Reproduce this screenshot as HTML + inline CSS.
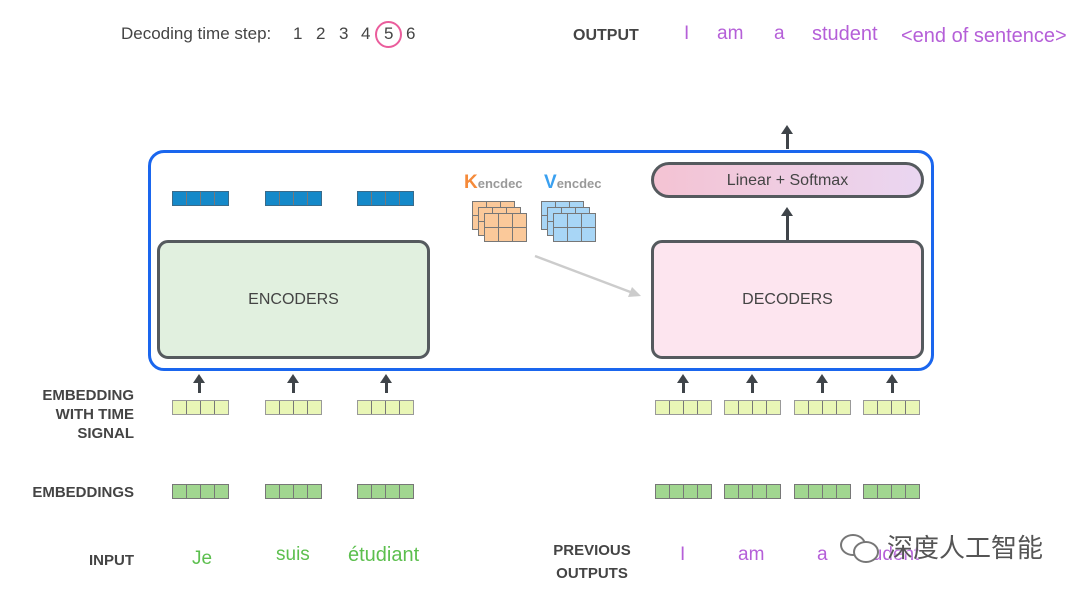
<!DOCTYPE html>
<html><head><meta charset="utf-8"><style>
body{margin:0;width:1080px;height:591px;background:#fff;position:relative;overflow:hidden;font-family:"Liberation Sans","Noto Sans CJK SC",sans-serif}
.a{position:absolute}
.v{position:absolute;width:56px;height:14px;border:1px solid #777;box-sizing:border-box;background-image:repeating-linear-gradient(90deg,transparent 0 13px,#777 13px 14px)}
.b{background-color:#1589c9;border-color:#3a6b8a}
.y{background-color:#e9f6b6;border-color:#999}
.g{background-color:#a1d690;border-color:#777}
.lbl{position:absolute;color:#444;font-size:15px;font-weight:bold;text-align:right;line-height:19px}
.t{position:absolute;font-size:19px;white-space:nowrap}
.pu{color:#b55fd8}.gr{color:#5cbf4e}
.arr{position:absolute;width:3px;background:#3f4449}
.arr:before{content:"";position:absolute;left:-5px;top:-8px;border-left:6.5px solid transparent;border-right:6.5px solid transparent;border-bottom:9px solid #3f4449}
.grid{position:absolute;width:43px;height:29px;border:1px solid #777;box-sizing:border-box;background-image:repeating-linear-gradient(90deg,transparent 0 13px,#777 13px 14px),linear-gradient(transparent 13px,#777 13px 14px,transparent 14px)}
.n{position:absolute;top:24px;font-size:17px;color:#444}
</style></head><body>
<div class="t" style="left:121px;top:24px;color:#444;font-size:17px">Decoding time step:</div>
<div class="n" style="left:293px">1</div>
<div class="n" style="left:316px">2</div>
<div class="n" style="left:339px">3</div>
<div class="n" style="left:361px">4</div>
<div class="n" style="left:384px">5</div>
<div class="n" style="left:406px">6</div>
<div class="a" style="left:375px;top:21px;width:23px;height:23px;border:2.5px solid #ea5d9c;border-radius:50%"></div>
<div class="t" style="left:573px;top:27px;color:#444;font-size:16px;font-weight:bold">OUTPUT</div>
<div class="t pu" style="left:684px;top:23px">I</div>
<div class="t pu" style="left:717px;top:23px">am</div>
<div class="t pu" style="left:774px;top:23px">a</div>
<div class="t pu" style="left:812px;top:23px;font-size:20px">student</div>
<div class="t pu" style="left:901px;top:25px;font-size:20px">&lt;end of sentence&gt;</div>

<div class="a" style="left:148px;top:150px;width:786px;height:221px;border:3px solid #1a66ee;border-radius:16px;box-sizing:border-box"></div>
<div class="v b" style="left:172px;top:191px;width:57px;height:15px"></div>
<div class="v b" style="left:265px;top:191px;width:57px;height:15px"></div>
<div class="v b" style="left:357px;top:191px;width:57px;height:15px"></div>

<div class="a" style="left:157px;top:240px;width:273px;height:119px;background:#e1f0df;border:3px solid #555a5e;border-radius:11px;box-sizing:border-box;color:#444;font-size:16px;display:flex;align-items:center;justify-content:center">ENCODERS</div>
<div class="a" style="left:651px;top:240px;width:273px;height:119px;background:#fde5ef;border:3px solid #555a5e;border-radius:11px;box-sizing:border-box;color:#444;font-size:16px;display:flex;align-items:center;justify-content:center">DECODERS</div>
<div class="a" style="left:651px;top:162px;width:273px;height:36px;background:linear-gradient(90deg,#f4c3d3,#ead6f1);border:3px solid #555a5e;border-radius:18px;box-sizing:border-box;color:#444;font-size:16px;line-height:32px;text-align:center">Linear + Softmax</div>

<div class="t" style="left:464px;top:172px;font-size:13px;color:#999;font-weight:bold"><span style="color:#f58a3a;font-size:19px">K</span>encdec</div>
<div class="t" style="left:544px;top:172px;font-size:13px;color:#999;font-weight:bold"><span style="color:#3aa0f0;font-size:19px">V</span>encdec</div>
<div class="grid" style="left:472px;top:201px;background-color:#fbc99a"></div>
<div class="grid" style="left:478px;top:207px;background-color:#fbc99a"></div>
<div class="grid" style="left:484px;top:213px;background-color:#fbc99a"></div>
<div class="grid" style="left:541px;top:201px;background-color:#a8d6f6"></div>
<div class="grid" style="left:547px;top:207px;background-color:#a8d6f6"></div>
<div class="grid" style="left:553px;top:213px;background-color:#a8d6f6"></div>
<svg class="a" style="left:0;top:0" width="1080" height="591"><line x1="535" y1="256" x2="633" y2="293" stroke="#ccc" stroke-width="2.5"/><polygon points="641,296 628,297 632,287" fill="#ccc"/></svg>

<div class="arr" style="left:786px;top:133px;height:16px"></div>
<div class="arr" style="left:786px;top:215px;height:25px"></div>

<div class="arr" style="left:198px;top:382px;height:11px"></div>
<div class="arr" style="left:292px;top:382px;height:11px"></div>
<div class="arr" style="left:385px;top:382px;height:11px"></div>
<div class="arr" style="left:682px;top:382px;height:11px"></div>
<div class="arr" style="left:751px;top:382px;height:11px"></div>
<div class="arr" style="left:821px;top:382px;height:11px"></div>
<div class="arr" style="left:891px;top:382px;height:11px"></div>

<div class="lbl" style="left:0;width:134px;top:386px">EMBEDDING<br>WITH TIME<br>SIGNAL</div>
<div class="lbl" style="left:0;width:134px;top:483px">EMBEDDINGS</div>
<div class="lbl" style="left:0;width:134px;top:551px">INPUT</div>
<div class="lbl" style="left:536px;width:112px;top:539px;line-height:23px;text-align:center">PREVIOUS<br>OUTPUTS</div>

<div class="v y" style="left:172px;top:400px;width:57px;height:15px"></div>
<div class="v y" style="left:265px;top:400px;width:57px;height:15px"></div>
<div class="v y" style="left:357px;top:400px;width:57px;height:15px"></div>
<div class="v y" style="left:655px;top:400px;width:57px;height:15px"></div>
<div class="v y" style="left:724px;top:400px;width:57px;height:15px"></div>
<div class="v y" style="left:794px;top:400px;width:57px;height:15px"></div>
<div class="v y" style="left:863px;top:400px;width:57px;height:15px"></div>

<div class="v g" style="left:172px;top:484px;width:57px;height:15px"></div>
<div class="v g" style="left:265px;top:484px;width:57px;height:15px"></div>
<div class="v g" style="left:357px;top:484px;width:57px;height:15px"></div>
<div class="v g" style="left:655px;top:484px;width:57px;height:15px"></div>
<div class="v g" style="left:724px;top:484px;width:57px;height:15px"></div>
<div class="v g" style="left:794px;top:484px;width:57px;height:15px"></div>
<div class="v g" style="left:863px;top:484px;width:57px;height:15px"></div>

<div class="t gr" style="left:192px;top:548px">Je</div>
<div class="t gr" style="left:276px;top:544px">suis</div>
<div class="t gr" style="left:348px;top:544px;font-size:20px">étudiant</div>
<div class="t pu" style="left:680px;top:544px">I</div>
<div class="t pu" style="left:738px;top:544px">am</div>
<div class="t pu" style="left:817px;top:544px">a</div>
<div class="t pu" style="left:857px;top:544px">student</div>
<div class="t" style="left:887px;top:528px;font-size:26px;color:#555;text-shadow:0 0 2px #fff">深度人工智能</div>
<div class="a" style="left:840px;top:534px;width:22px;height:18px;border:2px solid #777;border-radius:50%;background:#fff"></div>
<div class="a" style="left:853px;top:541px;width:22px;height:18px;border:2px solid #777;border-radius:50%;background:#fff"></div>
</body></html>
